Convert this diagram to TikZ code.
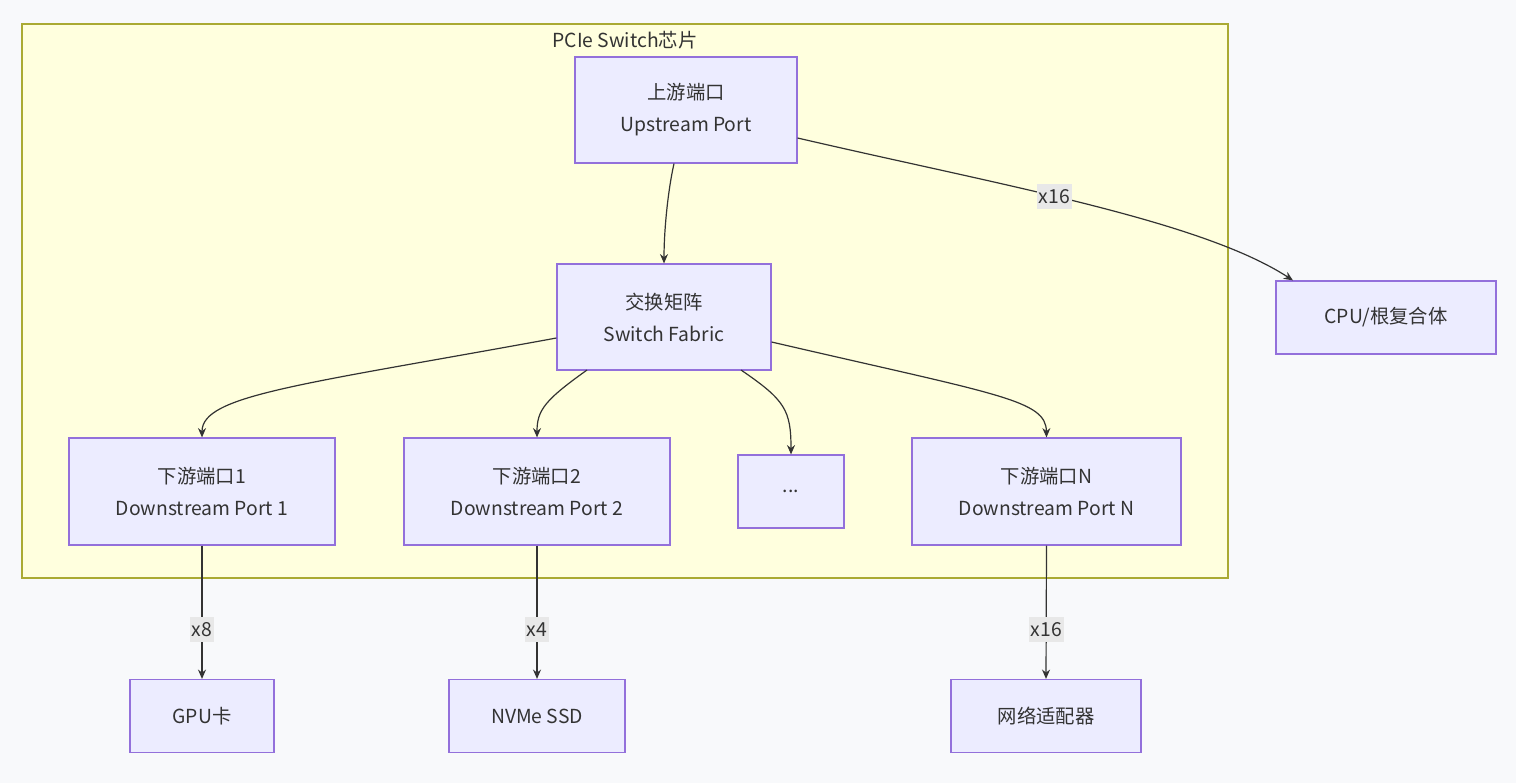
\documentclass[tikz,border=0pt]{standalone}
\usepackage{fontspec}
\setmainfont{Noto Sans CJK SC}
\usetikzlibrary{arrows.meta}
\definecolor{bg}{HTML}{F8F9FB}
\definecolor{cl}{HTML}{FFFFDE}
\definecolor{clb}{HTML}{AAAA33}
\definecolor{nf}{HTML}{ECECFF}
\definecolor{nb}{HTML}{9370DB}
\definecolor{ed}{HTML}{333333}
\definecolor{lb}{HTML}{E8E8E8}
\begin{document}
\begin{tikzpicture}[x=0.75pt,y=-0.75pt,
 box/.style={draw=nb,fill=nf,line width=0.9pt,align=center,font=\fontsize{14.5}{24}\selectfont,text=ed,inner sep=0pt},
 e/.style={draw=ed,line width=0.9pt,-{Stealth[length=7pt,width=6pt]}},
 lab/.style={fill=lb,font=\fontsize{14.5}{18}\selectfont,text=ed,inner xsep=1.5pt,inner ysep=4pt}]
\fill[bg] (0,0) rectangle (1516,783);
\useasboundingbox (0,0) rectangle (1516,783);
\draw[fill=cl,draw=clb,line width=0.9pt] (22,24) rectangle (1228,578);
\node[font=\fontsize{14.5}{18}\selectfont,text=ed] (title) at (625,40) {PCIe Switch芯片};
\node[box,minimum width=222*0.75pt,minimum height=106*0.75pt] (up) at (686,110) {上游端口\\Upstream Port};
\node[box,minimum width=214*0.75pt,minimum height=106*0.75pt] (sf) at (664,317) {交换矩阵\\Switch Fabric};
\node[box,minimum width=220*0.75pt,minimum height=73*0.75pt] (cpu) at (1386,317.5) {CPU/根复合体};
\node[box,minimum width=266*0.75pt,minimum height=107*0.75pt] (d1) at (202,491.5) {下游端口1\\Downstream Port 1};
\node[box,minimum width=266*0.75pt,minimum height=107*0.75pt] (d2) at (537,491.5) {下游端口2\\Downstream Port 2};
\node[box,minimum width=106*0.75pt,minimum height=73*0.75pt] (dd) at (791,491.5) {...};
\node[box,minimum width=269*0.75pt,minimum height=107*0.75pt] (dn) at (1046.5,491.5) {下游端口N\\Downstream Port N};
\node[box,minimum width=144*0.75pt,minimum height=73*0.75pt] (gpu) at (202,716) {GPU卡};
\node[box,minimum width=176*0.75pt,minimum height=73*0.75pt] (ssd) at (537,716) {NVMe SSD};
\node[box,minimum width=190*0.75pt,minimum height=73*0.75pt] (net) at (1046,716) {网络适配器};
\draw[e] (up.south)++(-12,0) .. controls (668,190) and (664,230) .. (sf.north);
\draw[e] (up.east)++(0,28) .. controls (1000,185) and (1200,220) .. ([xshift=-93*0.75pt]cpu.north) node[lab,pos=0.44] {x16};
\draw[e] (sf.west)++(0,21) .. controls (300,385) and (202,395) .. (d1.north);
\draw[e] (587,370) .. controls (545,400) and (537,410) .. (d2.north);
\draw[e] (741,370) .. controls (785,400) and (791,410) .. (dd.north);
\draw[e] (sf.east)++(0,25) .. controls (1000,395) and (1046,400) .. (dn.north);
\draw[e] (d1.south) -- (gpu.north) node[lab,pos=0.63] {x8};
\draw[e] (d2.south) -- (ssd.north) node[lab,pos=0.63] {x4};
\draw[e] (dn.south) -- (net.north) node[lab,pos=0.63] {x16};
\end{tikzpicture}
\end{document}
